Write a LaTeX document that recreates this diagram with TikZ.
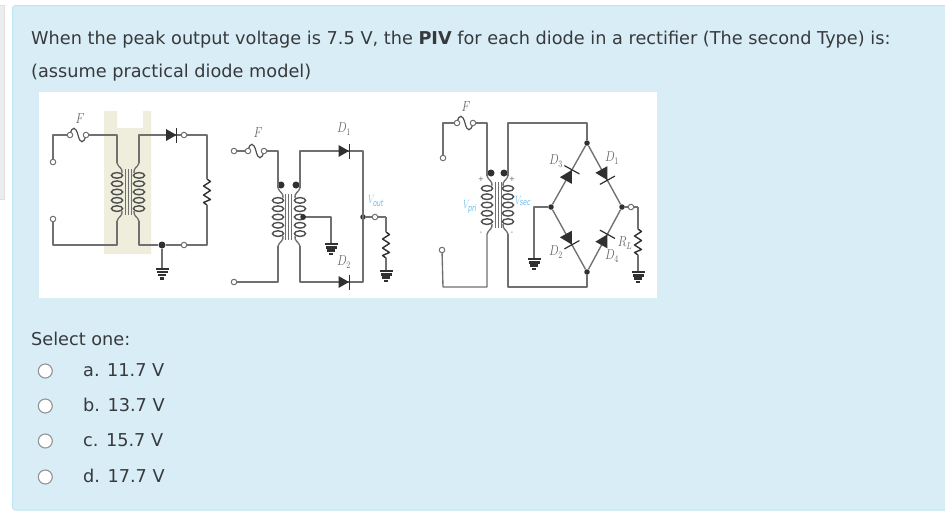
\documentclass[tikz,border=0pt]{standalone}
\usepackage{fontspec}
\setmainfont{DejaVu Sans}
\definecolor{panel}{HTML}{D9EDF7}
\definecolor{panelb}{HTML}{BFE6F3}
\definecolor{wirec}{HTML}{707070}
\definecolor{inkc}{HTML}{303030}
\definecolor{txtc}{HTML}{373A3C}
\definecolor{beige}{HTML}{EFEEDC}
\definecolor{bluel}{HTML}{6CBDEB}
\tikzset{
  wire/.style={draw=wirec,line width=1.35pt,line join=round},
  term/.style={circle,draw=wirec,fill=white,line width=1pt,inner sep=0pt,minimum size=5.5pt},
  junct/.style={circle,fill=inkc,inner sep=0pt,minimum size=5.5pt},
  qtext/.style={anchor=base west,inner sep=0pt,text=txtc,font=\fontsize{17.7}{20}\selectfont},
  radio/.style={circle,draw=gray!85,fill=white,line width=1.1pt,inner sep=0pt,minimum size=14pt},
  lab/.style={inner sep=0pt,text=inkc!75,font=\fontsize{14}{15}\selectfont,xscale=.8,transform shape},
  blab/.style={inner sep=0pt,text=bluel,font=\fontsize{13}{14}\selectfont,xscale=.7,transform shape},
  signlab/.style={inner sep=0pt,text=inkc!75,font=\fontsize{7}{7}\selectfont},
  diodepic/.pic={
    \fill[inkc] (-5.5,-6) -- (-5.5,6) -- (5,0) -- cycle;
    \draw[inkc,line width=1.2pt] (5.2,-7.5) -- (5.2,7.5);
  },
  coilbody/.pic={
    \foreach \k in {-2,-1,0,1,2}
      \draw[inkc!85,line width=1.4pt] (0,\k*8.3) ellipse (5.6pt and 2.8pt);
  },
  coilL/.pic={
    \pic {coilbody};
    \coordinate (-top) at (0,-29);
    \coordinate (-bot) at (0,29);
    \draw[wire] (-top) .. controls (1,-25) and (6,-24) .. (5,-19);
    \draw[wire] (-bot) .. controls (1,25) and (6,24) .. (5,19);
  },
  coilR/.pic={
    \pic {coilbody};
    \coordinate (-top) at (0,-29);
    \coordinate (-bot) at (0,29);
    \draw[wire] (-top) .. controls (-1,-25) and (-6,-24) .. (-5,-19);
    \draw[wire] (-bot) .. controls (-1,25) and (-6,24) .. (-5,19);
  },
  corepic/.pic={
    \foreach \k in {-3,0,3}
      \draw[wirec,line width=1pt] (\k,-23) -- (\k,23);
  },
  fusepic/.pic={
    \draw[inkc!85,line width=1.2pt] (0,0) .. controls (2,-10) and (6,-8) .. (8,0)
       .. controls (10,9) and (14,9) .. (16,0);
    \node[term] (-a) at (0,0) {};
    \node[term] (-b) at (16,0) {};
  },
  respic/.pic={
    \coordinate (-top) at (0,-13);
    \coordinate (-bot) at (0,13);
    \draw[inkc,line width=1.4pt,line join=round] (-top) -- (3.5,-10.5) -- (-3.5,-6) -- (3.5,-1.5)
       -- (-3.5,3) -- (3.5,7.5) -- (-3.5,10.5) -- (-bot);
  },
  gndpic/.pic={
    \coordinate (-top) at (0,0);
    \fill[inkc] (-6.5,0) rectangle (6.5,2.4);
    \fill[inkc] (-5.5,3.2) rectangle (5.5,5.6);
    \fill[inkc] (-3.8,6.4) rectangle (3.8,8.8);
    \fill[inkc] (-2.4,9.6) rectangle (2.4,12);
  }
}
\begin{document}
\begin{tikzpicture}[x=1pt,y=-1pt]
\useasboundingbox (0,0) rectangle (945,512);
\fill[white] (0,0) rectangle (945,512);
% left strip and panel
\draw[draw=black!12,fill=black!7] (-3,5) -- (4.5,5) -- (4.5,199) -- (-3,199) -- cycle;
\draw[draw=panelb,fill=panel,line width=1pt,rounded corners=3pt] (12.5,5.5) rectangle (950,510);
% question
\node[qtext] (q1) at (31,44) {When the peak output voltage is 7.5 V, the \textbf{PIV} for each diode in a rectifier (The second Type) is:};
\node[qtext] (q2) at (31,77) {(assume practical diode model)};
\fill[white] (39,92) rectangle (657,298);
% ---------- circuit 1
\fill[beige] (104,111) -- (117,111) -- (117,128) -- (143,128) -- (143,111) -- (151,111)
   -- (151,254) -- (104,254) -- cycle;
\pic at (128,192) {corepic};
\pic (ca) at (117,192) {coilL};
\pic (cb) at (139,192) {coilR};
\node[term] (at1) at (53,162) {};
\node[term] (at2) at (53,219) {};
\pic (fa) at (70,135) {fusepic};
\coordinate (a1) at (53,135);
\coordinate (a2) at (117,135);
\coordinate (a3) at (53,245);
\coordinate (a4) at (117,245);
\coordinate (a5) at (139,135);
\coordinate (a6) at (139,245);
\coordinate (a7) at (207,135);
\coordinate (a8) at (207,245);
\node[term] (at3) at (184,135) {};
\node[term] (at4) at (184,245) {};
\node[junct,minimum width=4.5pt,minimum height=7pt] (aj) at (162,245) {};
\draw[wire] (at1) -- (a1) -- (fa-a);
\draw[wire] (fa-b) -- (a2) -- (ca-top);
\draw[wire] (at2) -- (a3) -- (a4) -- (ca-bot);
\draw[wire] (cb-top) -- (a5) -- (at3);
\draw[wire] (cb-bot) -- (a6) -- (aj) -- (at4);
\pic (ra) at (207,192) {respic};
\draw[wire] (at3) -- (a7) -- (ra-top);
\draw[wire] (ra-bot) -- (a8) -- (at4);
\pic (ga) at (162,267.5) {gndpic};
\draw[wire] (aj) -- (ga-top);
\pic at (171.5,135) {diodepic};
\node[lab] (fl1) at (80,119) {$F$};
% ---------- circuit 2
\pic at (288.5,217) {corepic};
\pic (cc) at (278,217) {coilL};
\pic (cd) at (300,217) {coilR};
\node[term] (bt1) at (234,151) {};
\node[term] (bt2) at (234,282) {};
\pic (fb) at (248,151) {fusepic};
\coordinate (b1) at (278,151);
\coordinate (b2) at (278,282);
\coordinate (b3) at (300,151);
\coordinate (b4) at (300,282);
\coordinate (b5) at (363,151);
\coordinate (b6) at (363,282);
\coordinate (b7) at (331,217);
\coordinate (b8) at (386,217);
\node[junct,minimum width=4.5pt,minimum height=7pt] (bj1) at (281,185) {};
\node[junct,minimum width=4.5pt,minimum height=7pt] (bj2) at (296,185) {};
\node[junct] (bj3) at (303,217) {};
\node[junct] (bj4) at (363,217) {};
\node[term] (bt3) at (375,217) {};
\draw[wire] (bt1) -- (fb-a);
\draw[wire] (fb-b) -- (b1) -- (cc-top);
\draw[wire] (bt2) -- (b2) -- (cc-bot);
\draw[wire] (cd-top) -- (b3) -- (b5) -- (b6) -- (b4) -- (cd-bot);
\pic (gb) at (331,243) {gndpic};
\draw[wire] (bj3) -- (b7) -- (gb-top);
\draw[wire] (bj4) -- (bt3) -- (b8);
\pic (rb) at (386,245) {respic};
\draw[wire] (b8) -- (rb-top);
\pic (gc) at (386,270) {gndpic};
\draw[wire] (rb-bot) -- (gc-top);
\pic at (344,151) {diodepic};
\pic at (344,282) {diodepic};
\node[lab] (fl2) at (258,133) {$F$};
\node[lab] (d1b) at (344,129) {$D_1$};
\node[lab] (d2b) at (344,262) {$D_2$};
\node[blab] (vout) at (376,201) {$V_{\mathit{out}}$};
% ---------- circuit 3
\pic at (498,205) {corepic};
\pic (ce) at (487,205) {coilL};
\pic (cf) at (508,205) {coilR};
\node[term] (ct1) at (443,158) {};
\node[term] (ct2) at (442,250) {};
\pic (fc) at (457,123) {fusepic};
\coordinate (c1) at (443,123);
\coordinate (c2) at (487,123);
\coordinate (c3) at (443,287);
\coordinate (c4) at (487,287);
\coordinate (c5) at (508,123);
\coordinate (c6) at (587,123);
\coordinate (c7) at (508,287);
\coordinate (c8) at (587,287);
\coordinate (c9) at (534,207);
\coordinate (c10) at (638,207);
\node[junct,minimum width=4.5pt,minimum height=7pt] (cj1) at (491,173) {};
\node[junct,minimum width=4.5pt,minimum height=7pt] (cj2) at (504,173) {};
\node[junct] (top) at (587,143) {};
\node[junct] (bottom) at (587,272) {};
\node[junct] (left) at (551,207) {};
\node[junct] (right) at (622,207) {};
\node[term] (ct3) at (631,207) {};
\draw[wire] (ct1) -- (c1) -- (fc-a);
\draw[wire] (fc-b) -- (c2) -- (ce-top);
\draw[wire] (ct2) -- (c3) -- (c4) -- (ce-bot);
\draw[wire] (cf-top) -- (c5) -- (c6) -- (top);
\draw[wire] (cf-bot) -- (c7) -- (c8) -- (bottom);
\draw[wire] (top) -- (left) -- (bottom) -- (right) -- (top);
\pic (gd) at (534,258) {gndpic};
\draw[wire] (left) -- (c9) -- (gd-top);
\draw[wire] (right) -- (ct3) -- (c10);
\pic (rc) at (638,242) {respic};
\draw[wire] (c10) -- (rc-top);
\pic (ge) at (638,271) {gndpic};
\draw[wire] (rc-bot) -- (ge-top);
\pic[rotate=61,scale=1.15] at (569,175) {diodepic};
\pic[rotate=-61,scale=1.15] at (604.5,175) {diodepic};
\pic[rotate=-61,scale=1.15] at (569,239.5) {diodepic};
\pic[rotate=61,scale=1.15] at (604.5,239.5) {diodepic};
\node[lab] (fl3) at (466,107) {$F$};
\node[lab] (d3c) at (556,161) {$D_3$};
\node[lab] (d1c) at (612,158) {$D_1$};
\node[lab] (d2c) at (556,252) {$D_2$};
\node[lab] (d4c) at (612,256) {$D_4$};
\node[lab] (rl) at (625,243) {$R_L$};
\node[blab] (vpri) at (470,207) {$V_{\mathit{pri}}$};
\node[blab] (vsec) at (523,201) {$V_{\mathit{sec}}$};
\node[signlab] (p1) at (481,179) {+};
\node[signlab] (p2) at (512,179) {+};
\node[signlab] (m1) at (481,233) {-};
\node[signlab] (m2) at (512,233) {-};
% ---------- answers
\node[qtext] (sel) at (31,345) {Select one:};
\node[radio] (ra1) at (45.3,371) {};
\node[radio] (ra2) at (45.3,406) {};
\node[radio] (ra3) at (45.3,441) {};
\node[radio] (ra4) at (45.3,477) {};
\node[qtext] (oa) at (83,376) {a. 11.7 V};
\node[qtext] (ob) at (83,411) {b. 13.7 V};
\node[qtext] (oc) at (83,446) {c. 15.7 V};
\node[qtext] (od) at (83,482) {d. 17.7 V};
\end{tikzpicture}
\end{document}
